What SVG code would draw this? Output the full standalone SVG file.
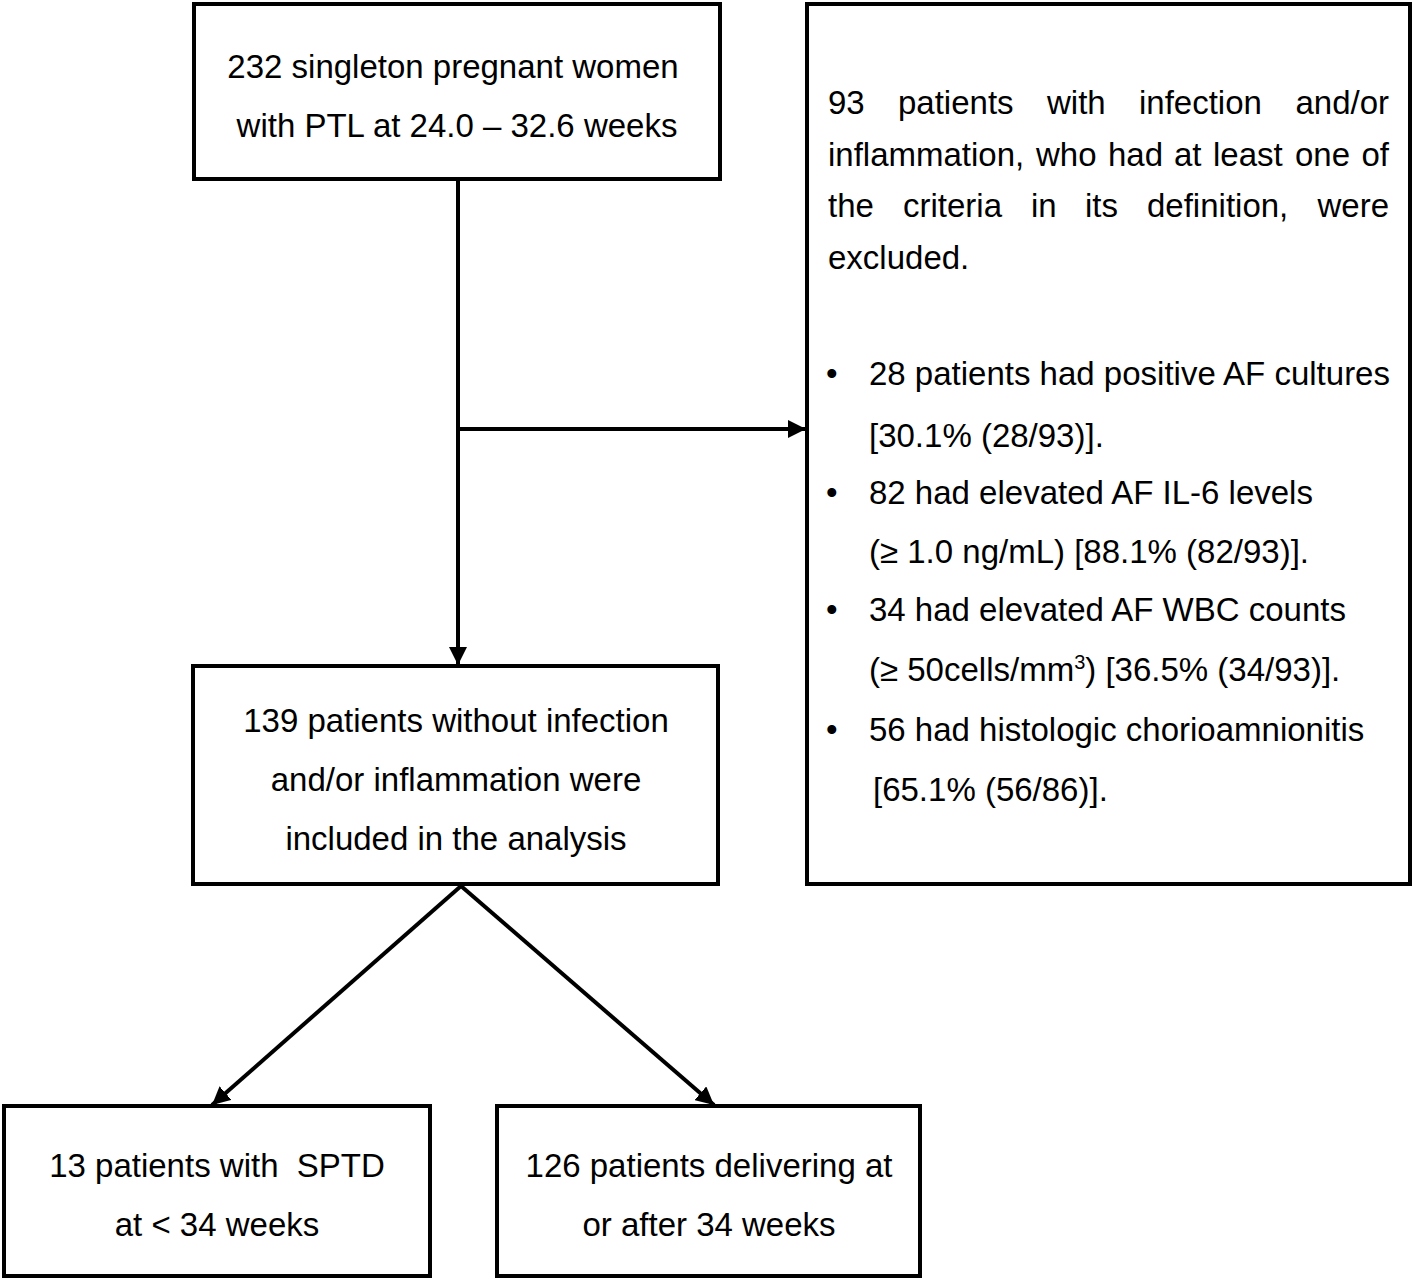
<svg xmlns="http://www.w3.org/2000/svg" width="1416" height="1281" viewBox="0 0 1416 1281">
<defs>
<style>
.box{fill:#fff;stroke:#000;stroke-width:4}
.t{font-family:"Liberation Sans",Arial,sans-serif;font-size:33px;fill:#000}
.c{text-anchor:middle}
.e{text-anchor:end}
.ln{stroke:#000;stroke-width:4;fill:none}
</style>
<marker id="ah" viewBox="0 0 10 10" refX="10" refY="5" markerWidth="4.5" markerHeight="4.5" markerUnits="strokeWidth" orient="auto">
<path d="M0,0 L10,5 L0,10 Z" fill="#000"/>
</marker>
</defs>
<rect width="1416" height="1281" fill="#fff"/>
<g id="connectors">
<line class="ln" x1="458" y1="180" x2="458" y2="665" marker-end="url(#ah)"/>
<line class="ln" x1="458" y1="429" x2="806" y2="429" marker-end="url(#ah)"/>
<line class="ln" x1="461" y1="886" x2="212" y2="1105" marker-end="url(#ah)"/>
<line class="ln" x1="461" y1="886" x2="714" y2="1105" marker-end="url(#ah)"/>
</g>
<g id="n1">
<rect class="box" x="194" y="4" width="526" height="175"/>
<text class="t c" x="453" y="78">232 singleton pregnant women</text>
<text class="t c" x="457" y="137">with PTL at 24.0 – 32.6 weeks</text>
</g>
<g id="n2">
<rect class="box" x="807" y="4" width="603" height="880"/>
<text class="t" x="828" y="114">93</text>
<text class="t" x="898" y="114">patients</text>
<text class="t" x="1047" y="114">with</text>
<text class="t" x="1139" y="114">infection</text>
<text class="t e" x="1389" y="114">and/or</text>
<text class="t" x="828" y="166">inflammation,</text>
<text class="t" x="1036" y="166">who</text>
<text class="t" x="1108" y="166">had</text>
<text class="t" x="1174" y="166">at</text>
<text class="t" x="1213" y="166">least</text>
<text class="t" x="1295" y="166">one</text>
<text class="t e" x="1389" y="166">of</text>
<text class="t" x="828" y="217">the</text>
<text class="t" x="903" y="217">criteria</text>
<text class="t" x="1031" y="217">in</text>
<text class="t" x="1085" y="217">its</text>
<text class="t" x="1147" y="217">definition,</text>
<text class="t e" x="1389" y="217">were</text>
<text class="t" x="828" y="269">excluded.</text>
<text class="t" x="826" y="385">•</text>
<text class="t" x="869" y="385">28 patients had positive AF cultures</text>
<text class="t" x="869" y="447">[30.1% (28/93)].</text>
<text class="t" x="826" y="504">•</text>
<text class="t" x="869" y="504">82 had elevated AF IL-6 levels</text>
<text class="t" x="869" y="563">(≥ 1.0 ng/mL) [88.1% (82/93)].</text>
<text class="t" x="826" y="621">•</text>
<text class="t" x="869" y="621">34 had elevated AF WBC counts</text>
<text class="t" x="869" y="681">(≥ 50cells/mm<tspan font-size="20" dy="-12">3</tspan><tspan dy="12">) [36.5% (34/93)].</tspan></text>
<text class="t" x="826" y="741">•</text>
<text class="t" x="869" y="741">56 had histologic chorioamnionitis</text>
<text class="t" x="873" y="801">[65.1% (56/86)].</text>
</g>
<g id="n3">
<rect class="box" x="193" y="666" width="525" height="218"/>
<text class="t c" x="456" y="732">139 patients without infection</text>
<text class="t c" x="456" y="791">and/or inflammation were</text>
<text class="t c" x="456" y="850">included in the analysis</text>
</g>
<g id="n4">
<rect class="box" x="4" y="1106" width="426" height="170"/>
<text class="t c" x="217" y="1177" xml:space="preserve">13 patients with  SPTD</text>
<text class="t c" x="217" y="1236">at &lt; 34 weeks</text>
</g>
<g id="n5">
<rect class="box" x="497" y="1106" width="423" height="170"/>
<text class="t c" x="709" y="1177">126 patients delivering at</text>
<text class="t c" x="709" y="1236">or after 34 weeks</text>
</g>
</svg>
